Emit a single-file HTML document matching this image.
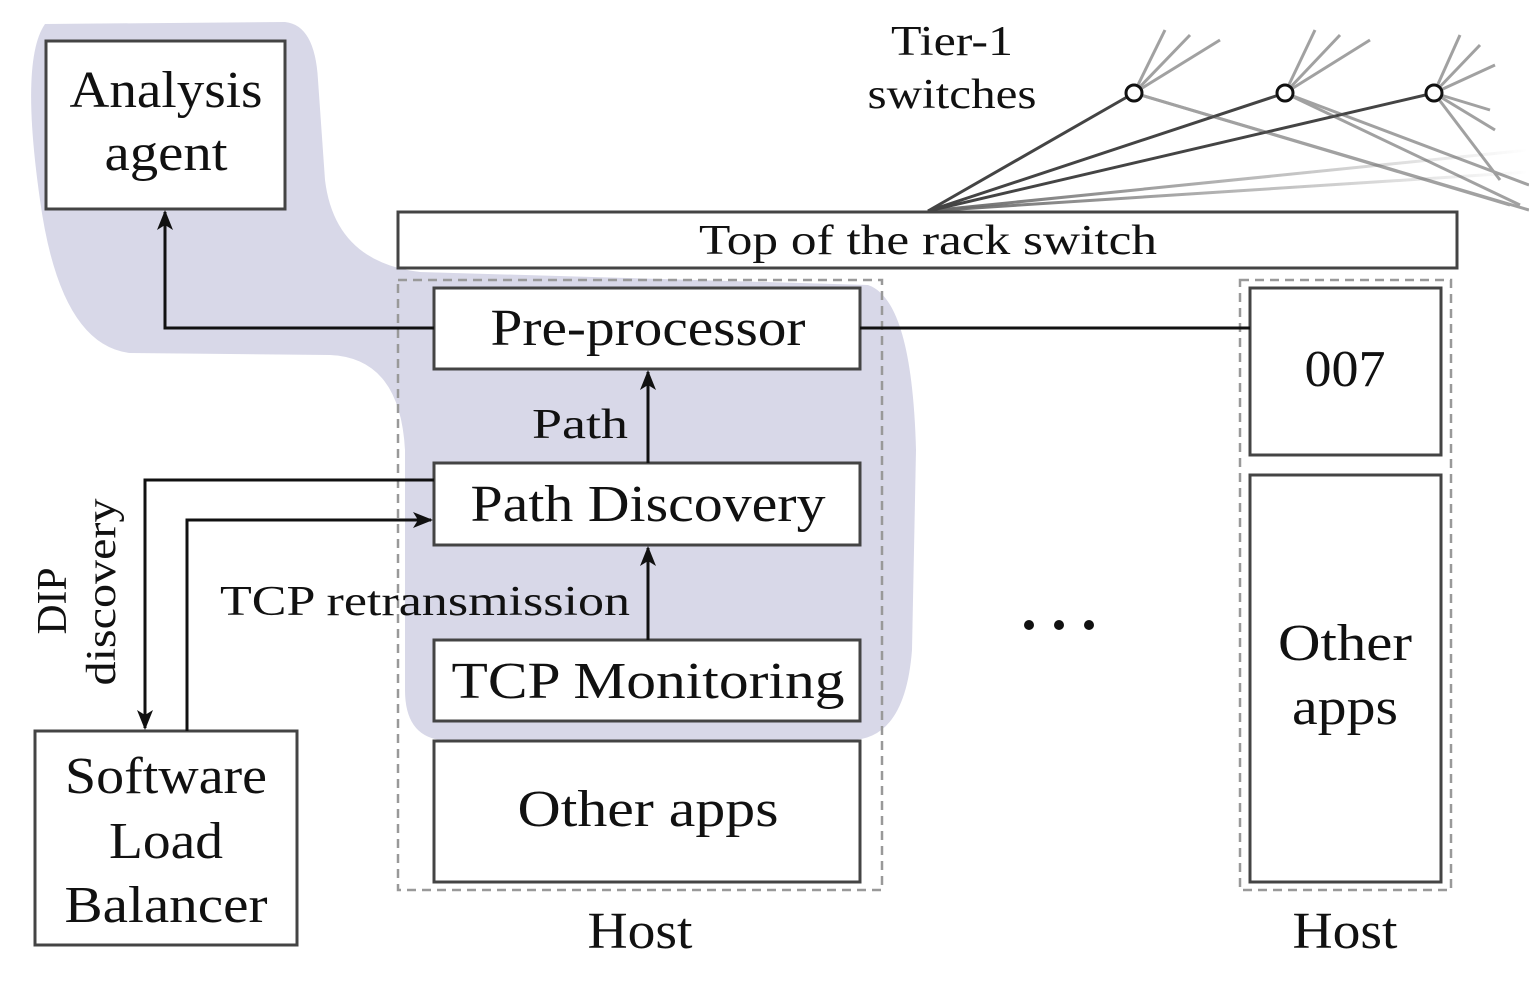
<!DOCTYPE html>
<html><head><meta charset="utf-8"><style>html,body{margin:0;padding:0;background:#fff}svg{display:block}</style></head>
<body>
<svg width="1529" height="992" viewBox="0 0 1529 992" xmlns="http://www.w3.org/2000/svg" font-family="'Liberation Serif', serif" fill="#111">
<defs>
<marker id="a" markerWidth="20" markerHeight="20" refX="18" refY="10" orient="auto" markerUnits="userSpaceOnUse" viewBox="0 0 20 20"><path d="M0,2 L20,10 L0,18 L5,10 Z" fill="#111"/></marker>
<linearGradient id="f1" x1="0" x2="1" y1="0" y2="0"><stop offset="0" stop-color="#444"/><stop offset="1" stop-color="#444" stop-opacity="0"/></linearGradient>
</defs>
<path d="M45 24 L285 22 Q315 25 318 80 L325 180 Q335 262 420 272 L868 285 Q912 300 916 450 L912 650 Q905 740 850 740 L440 740 Q405 735 405 690 L405 450 Q400 358 330 355 L130 353 Q60 345 40 200 Q20 60 45 24 Z" fill="#d8d8e8"/>
<g stroke="#999" stroke-width="2.5" stroke-dasharray="9,6" fill="none">
<rect x="398" y="280" width="484" height="610"/>
<rect x="1240" y="280" width="211" height="610"/>
</g>
<g stroke="#444" stroke-width="3" fill="#fff">
<rect x="46" y="41" width="239" height="168"/>
<rect x="398" y="212" width="1059" height="56"/>
<rect x="434" y="288" width="426" height="81"/>
<rect x="434" y="463" width="426" height="82"/>
<rect x="434" y="640" width="426" height="81"/>
<rect x="434" y="741" width="426" height="141"/>
<rect x="1250" y="288" width="191" height="167"/>
<rect x="1250" y="475" width="191" height="407"/>
<rect x="35" y="731" width="262" height="214"/>
</g>
<g stroke="#111" stroke-width="3" fill="none">
<polyline points="434,328 165,328 165,212" marker-end="url(#a)"/>
<line x1="860" y1="328" x2="1250" y2="328"/>
<line x1="648" y1="463" x2="648" y2="372" marker-end="url(#a)"/>
<line x1="648" y1="640" x2="648" y2="548" marker-end="url(#a)"/>
<polyline points="434,480 145,480 145,728" marker-end="url(#a)"/>
<polyline points="187,731 187,520 431,520" marker-end="url(#a)"/>
</g>
<g stroke="#444" stroke-width="3" fill="none">
<line x1="928" y1="211" x2="1134" y2="93"/>
<line x1="928" y1="211" x2="1285" y2="93"/>
<line x1="928" y1="211" x2="1434" y2="93"/>
</g>
<g stroke="url(#f1)" stroke-width="3" fill="none" opacity="0.8">
<line x1="928" y1="211" x2="1529" y2="150"/>
<line x1="928" y1="211" x2="1529" y2="172"/>
</g>
<g stroke="#555" stroke-width="3" opacity="0.55">
<line x1="1134" y1="93" x2="1529" y2="210"/><line x1="1134" y1="93" x2="1510" y2="205"/>
<line x1="1285" y1="93" x2="1520" y2="205"/><line x1="1285" y1="93" x2="1529" y2="185"/>
<line x1="1434" y1="93" x2="1500" y2="180"/><line x1="1434" y1="93" x2="1495" y2="130"/><line x1="1434" y1="93" x2="1490" y2="110"/>
<line x1="1134" y1="93" x2="1165" y2="30"/><line x1="1134" y1="93" x2="1190" y2="35"/><line x1="1134" y1="93" x2="1220" y2="40"/>
<line x1="1285" y1="93" x2="1315" y2="30"/><line x1="1285" y1="93" x2="1340" y2="35"/><line x1="1285" y1="93" x2="1370" y2="40"/>
<line x1="1434" y1="93" x2="1460" y2="35"/><line x1="1434" y1="93" x2="1480" y2="45"/><line x1="1434" y1="93" x2="1495" y2="65"/>
</g>
<g fill="#fff" stroke="#111" stroke-width="3">
<circle cx="1134" cy="93" r="8"/><circle cx="1285" cy="93" r="8"/><circle cx="1434" cy="93" r="8"/>
</g>
<g fill="#111"><circle cx="1029" cy="625" r="5"/><circle cx="1059" cy="625" r="5"/><circle cx="1089" cy="625" r="5"/></g>
<g font-size="52" text-anchor="middle" lengthAdjust="spacingAndGlyphs">
<text x="166" y="107" textLength="193" lengthAdjust="spacingAndGlyphs">Analysis</text>
<text x="166" y="170" textLength="123" lengthAdjust="spacingAndGlyphs">agent</text>
<text x="648" y="345" textLength="315" lengthAdjust="spacingAndGlyphs">Pre-processor</text>
<text x="648" y="521" textLength="355" lengthAdjust="spacingAndGlyphs">Path Discovery</text>
<text x="648" y="698" textLength="393" lengthAdjust="spacingAndGlyphs">TCP Monitoring</text>
<text x="648" y="826" textLength="261" lengthAdjust="spacingAndGlyphs">Other apps</text>
<text x="1345" y="386" textLength="81" lengthAdjust="spacingAndGlyphs">007</text>
<text x="1345" y="660" textLength="134" lengthAdjust="spacingAndGlyphs">Other</text>
<text x="1345" y="724" textLength="106" lengthAdjust="spacingAndGlyphs">apps</text>
<text x="166" y="793" textLength="202" lengthAdjust="spacingAndGlyphs">Software</text>
<text x="166" y="858" textLength="114" lengthAdjust="spacingAndGlyphs">Load</text>
<text x="166" y="922" textLength="203" lengthAdjust="spacingAndGlyphs">Balancer</text>
<text x="640" y="948" textLength="105" lengthAdjust="spacingAndGlyphs">Host</text>
<text x="1345" y="948" textLength="105" lengthAdjust="spacingAndGlyphs">Host</text>
</g>
<g font-size="42" text-anchor="middle">
<text x="928" y="254" textLength="458" lengthAdjust="spacingAndGlyphs">Top of the rack switch</text>
<text x="952" y="55" textLength="122" lengthAdjust="spacingAndGlyphs">Tier-1</text>
<text x="952" y="108" textLength="169" lengthAdjust="spacingAndGlyphs">switches</text>
<text x="580" y="438" textLength="96" lengthAdjust="spacingAndGlyphs">Path</text>
<text x="425" y="615" textLength="410" lengthAdjust="spacingAndGlyphs">TCP retransmission</text>
<text transform="translate(66,601) rotate(-90)" textLength="67" lengthAdjust="spacingAndGlyphs">DIP</text>
<text transform="translate(115,592) rotate(-90)" textLength="187" lengthAdjust="spacingAndGlyphs">discovery</text>
</g>
</svg>
</body></html>
